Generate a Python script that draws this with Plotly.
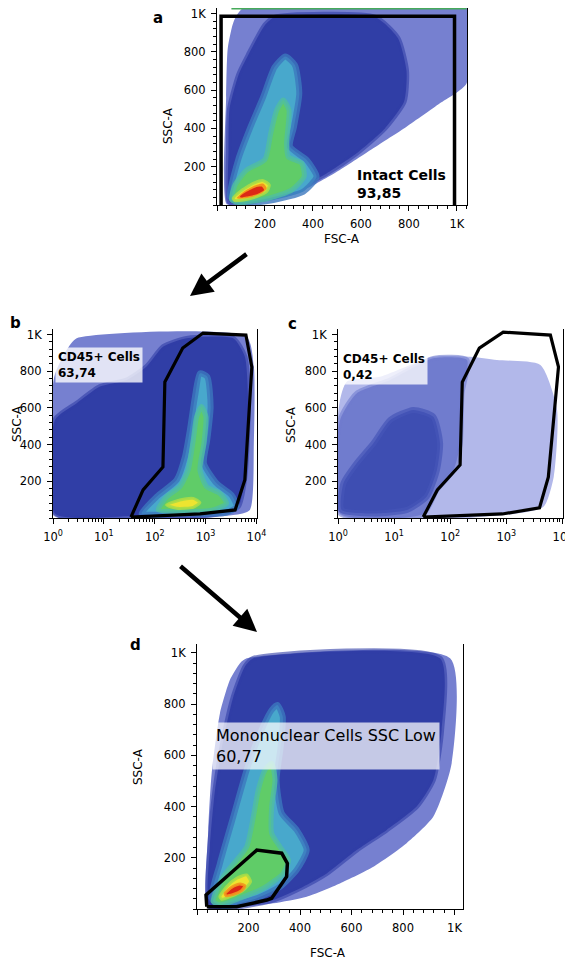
import plotly.graph_objects as go

W, H = 573, 962
OFF = 8  # the page body adds an 8px margin round the figure

# ---- panel a: FSC-A vs SSC-A, all events (linear/linear) ----
A_SPARSE = [(40, 5), (38, 560), (45, 820), (70, 960), (110, 1030), (1040, 1030), (1040, 635),
            (929, 531), (790, 409), (651, 296), (512, 183), (374, 87), (235, 35), (96, 5)]
A_DENSE = [(51, 17), (48, 287), (52, 500), (90, 680), (130, 783), (200, 940), (240, 980),
           (660, 980), (754, 872), (790, 700), (780, 540), (700, 400), (582, 270), (457, 165),
           (318, 78), (179, 26), (82, 5)]
A_TEAL = [(55, 44), (88, 235), (140, 409), (193, 566), (240, 720), (285, 775), (325, 730),
          (343, 583), (321, 409), (304, 305), (374, 235), (415, 148), (360, 70), (235, 26), (96, 9)]
A_GREEN = [(61, 26), (75, 104), (124, 183), (200, 238), (224, 374), (249, 496), (276, 548),
           (300, 496), (290, 322), (297, 252), (353, 218), (363, 148), (311, 78), (214, 35), (96, 12)]
A_YELLOW = [(68, 35), (96, 70), (151, 113), (193, 127), (218, 104), (207, 70), (165, 44),
            (110, 26), (75, 23)]
A_ORANGE = [(82, 36), (110, 68), (155, 100), (192, 112), (207, 88), (185, 60), (140, 40), (95, 32)]
A_RED = [(96, 44), (124, 70), (160, 92), (186, 96), (196, 78), (168, 57), (124, 44), (99, 39)]
A_TOP = [(60, 1026), (1040, 1026)]
A_GATE = [(17, -20), (17, 985), (990, 985), (990, -20)]

# ---- panel b: CD45 (log) vs SSC-A ----
B_SPARSE = [(1.06, 16), (1.06, 770), (1.85, 915), (2.92, 979), (6380, 988), (8870, 825),
            (8870, 407), (7420, 44), (3480, 16)]
B_DENSE = [(1.09, 25), (1.09, 534), (2.92, 625), (8.38, 716), (28, 752), (69, 825), (147, 934),
           (423, 979), (3490, 979), (5920, 879), (6880, 589), (5920, 225), (4380, 62),
           (1640, 22), (37.9, 11)]
B_TEAL = [(55, 25), (109, 116), (269, 207), (392, 334), (491, 480), (617, 661), (773, 788),
          (1076, 770), (1254, 606), (1076, 425), (926, 298), (1644, 189), (3240, 125),
          (4060, 62), (2580, 29), (367, 24), (93, 18)]
B_GREEN = [(117, 44), (171, 116), (313, 171), (455, 262), (571, 425), (665, 552), (834, 607),
           (1014, 552), (926, 407), (773, 262), (1047, 171), (1910, 134), (2580, 80),
           (1410, 44), (363, 35)]
B_YELLOW = [(171, 71), (313, 98), (571, 107), (773, 84), (571, 58), (269, 53)]
B_GATE = [(34, 5), (59, 153), (145, 278), (158, 741), (355, 926), (890, 1008), (6200, 997),
          (8100, 823), (5900, 207), (3800, 44), (775, 22), (34, 5)]

# ---- panel c: CD45 (log) vs SSC-A, second sample ----
C_SPARSE = [(1.06, 22), (1.06, 625), (1.43, 743), (5.6, 770), (50, 879), (228, 879),
            (681, 861), (4050, 834), (8030, 589), (7000, 225), (4640, 62), (1350, 22)]
C_MID = [(1.09, 25), (1.09, 534), (2.15, 679), (8.5, 752), (50, 870), (199, 861), (162, 679),
         (151, 407), (115, 262), (58, 153), (33, 22)]
C_BLOB = [(1.16, 44), (1.25, 189), (2.15, 298), (4.28, 407), (8.5, 534), (22, 589), (50, 552),
          (66, 407), (58, 262), (38, 116), (17, 44), (4.3, 25)]
C_GATE = [(33, 5), (59, 153), (150, 289), (164, 741), (330, 926), (880, 1013), (6100, 997),
          (8500, 823), (5600, 223), (3900, 55), (850, 22), (33, 5)]

# ---- panel d: FSC-A vs SSC-A of CD45+ ----
D_SPARSE = [(44, 3), (44, 309), (57, 530), (89, 764), (128, 895), (167, 960), (193, 979),
            (983, 979), (989, 569), (918, 361), (814, 257), (685, 165), (555, 100), (426, 48),
            (296, 22), (167, 7)]
D_DENSE = [(50, 9), (50, 243), (70, 465), (102, 660), (141, 829), (186, 947), (219, 979),
           (944, 979), (950, 699), (918, 504), (853, 400), (737, 309), (620, 230), (504, 139),
           (387, 74), (296, 35), (167, 9)]
D_TEAL = [(57, 42), (89, 178), (141, 361), (193, 543), (245, 686), (290, 777), (312, 797),
          (333, 751), (325, 634), (309, 504), (329, 374), (387, 309), (426, 230), (387, 152),
          (322, 87), (232, 42), (102, 12)]
D_GREEN = [(63, 29), (102, 126), (154, 191), (193, 243), (219, 361), (238, 465), (264, 543),
           (290, 569), (303, 504), (290, 400), (290, 296), (322, 243), (355, 191), (335, 139),
           (258, 81), (167, 42), (89, 16)]
D_YELLOW = [(89, 48), (115, 87), (154, 120), (193, 133), (208, 107), (180, 74), (128, 48), (96, 38)]
D_RED = [(109, 61), (135, 85), (167, 98), (186, 90), (173, 72), (141, 57), (113, 52)]
D_GATE = [(38, 9), (35, 55), (232, 230), (329, 218), (351, 178), (348, 126), (290, 42),
          (271, 35), (154, 9), (38, 9)]

LIN_TICKS = [0, 200, 400, 600, 800, 1000]
LIN_TEXT = ["", "200", "400", "600", "800", "1K"]
SSC_TICKS = [200, 400, 600, 800, 1000]
SSC_TEXT = ["200", "400", "600", "800", "1K"]
LOG_TICKS = [1, 10, 100, 1000, 10000]
LOG_TEXT = ["10<sup>0</sup>", "10<sup>1</sup>", "10<sup>2</sup>", "10<sup>3</sup>", "10<sup>4</sup>"]

SPARSE = "rgb(118,128,208)"
SPARSE_C = "rgb(178,184,234)"
MID_C = "rgb(112,124,206)"
DENSE = "rgb(48,62,166)"
TEAL = "rgb(72,168,204)"
GREEN = "rgb(96,204,104)"
YELLOW = "rgb(238,228,48)"
ORANGE = "rgb(242,150,30)"
RED = "rgb(220,40,22)"


def poly(pts, color, ax, edge=None, ew=0):
    xs = [p[0] for p in pts] + [pts[0][0]]
    ys = [p[1] for p in pts] + [pts[0][1]]
    return go.Scatter(x=xs, y=ys, mode="lines", fill="toself", fillcolor=color,
                      line=dict(color=edge or color, width=ew, shape="spline", smoothing=0.6),
                      hoverinfo="skip", showlegend=False, xaxis="x" + ax, yaxis="y" + ax)


def gate(pts, ax, width=3.2):
    return go.Scatter(x=[p[0] for p in pts], y=[p[1] for p in pts], mode="lines",
                      line=dict(color="black", width=width),
                      hoverinfo="skip", showlegend=False, xaxis="x" + ax, yaxis="y" + ax)


fig = go.Figure()

# panel a
fig.add_trace(poly(A_SPARSE, SPARSE, ""))
fig.add_trace(poly(A_DENSE, DENSE, "", "rgba(48,62,166,0.6)", 5))
fig.add_trace(poly(A_TEAL, TEAL, "", "rgba(60,120,190,0.8)", 6))
fig.add_trace(poly(A_GREEN, GREEN, "", "rgba(80,190,160,0.8)", 5))
fig.add_trace(poly(A_YELLOW, YELLOW, "", "rgba(170,220,70,0.9)", 3))
fig.add_trace(poly(A_ORANGE, ORANGE, ""))
fig.add_trace(poly(A_RED, RED, ""))
fig.add_trace(go.Scatter(x=[p[0] for p in A_TOP], y=[p[1] for p in A_TOP], mode="lines",
                         line=dict(color="rgb(70,170,90)", width=2), hoverinfo="skip",
                         showlegend=False, xaxis="x", yaxis="y"))
fig.add_trace(gate(A_GATE, "", 3.5))

# panel b
fig.add_trace(poly(B_SPARSE, SPARSE, "2"))
fig.add_trace(poly(B_DENSE, DENSE, "2", "rgba(48,62,166,0.6)", 5))
fig.add_trace(poly(B_TEAL, TEAL, "2", "rgba(60,120,190,0.8)", 6))
fig.add_trace(poly(B_GREEN, GREEN, "2", "rgba(80,190,160,0.8)", 5))
fig.add_trace(poly(B_YELLOW, YELLOW, "2", "rgba(170,220,70,0.9)", 3))
fig.add_trace(gate(B_GATE, "2"))

# panel c
fig.add_trace(poly(C_SPARSE, SPARSE_C, "3"))
fig.add_trace(poly(C_MID, MID_C, "3", "rgba(112,124,206,0.6)", 5))
fig.add_trace(poly(C_BLOB, "rgb(62,78,178)", "3", "rgba(70,86,184,0.7)", 6))
fig.add_trace(gate(C_GATE, "3"))

# panel d
fig.add_trace(poly(D_SPARSE, SPARSE, "4"))
fig.add_trace(poly(D_DENSE, DENSE, "4", "rgba(48,62,166,0.6)", 5))
fig.add_trace(poly(D_TEAL, TEAL, "4", "rgba(60,120,190,0.8)", 6))
fig.add_trace(poly(D_GREEN, GREEN, "4", "rgba(80,190,160,0.8)", 5))
fig.add_trace(poly(D_YELLOW, YELLOW, "4", "rgba(170,220,70,0.9)", 3))
fig.add_trace(poly(D_RED, RED, "4", "rgba(242,150,30,0.9)", 3))
fig.add_trace(gate(D_GATE, "4", 3.5))


# window pixel -> paper fraction
def px(x):
    return (x - OFF) / W


def py(y):
    return min(1, 1 - (y - OFF) / H)


base = dict(showline=True, linecolor="black", linewidth=1, ticks="outside", ticklen=5,
            tickwidth=1, tickcolor="black", showgrid=False, zeroline=False, automargin=False,
            ticklabelstandoff=3, ticklabeloverflow="allow",
            tickfont=dict(family="DejaVu Sans", size=11.5, color="black"))
lin_minor = dict(ticks="outside", ticklen=3, tick0=0, dtick=40, tickcolor="black", showgrid=False)
log_minor = dict(ticks="outside", ticklen=3, tickcolor="black", showgrid=False, tickmode="array",
                 tickvals=[m * 10 ** e for e in range(4) for m in range(2, 10)])


def lin_x(dom, rng, anchor):
    return dict(base, domain=dom, range=rng, tickmode="array", tickvals=LIN_TICKS,
                ticktext=LIN_TEXT, minor=lin_minor, anchor=anchor)


def log_x(dom, anchor):
    return dict(base, type="log", domain=dom, range=[0, 4.01], tickmode="array",
                tickvals=LOG_TICKS, ticktext=LOG_TEXT, minor=log_minor, anchor=anchor)


def ssc_y(dom, rng, anchor):
    return dict(base, domain=dom, range=rng, tickmode="array", tickvals=SSC_TICKS,
                ticktext=SSC_TEXT, minor=lin_minor, mirror=True, anchor=anchor)


fig.update_layout(
    template="none",
    width=W, height=H, margin=dict(l=0, r=0, t=0, b=0, pad=0, autoexpand=False),
    paper_bgcolor="white", plot_bgcolor="white",
    font=dict(family="DejaVu Sans", color="black"),
    # panel a reaches the very top of the page: its plot area starts at the figure edge
    xaxis=lin_x([px(217), px(467)], [0, 1042], "y"),
    yaxis=ssc_y([py(205), 1], [0, (205 - OFF) / 0.1915], "x"),
    xaxis2=log_x([px(53), px(257)], "y2"),
    yaxis2=ssc_y([py(518), py(329)], [0, 1030], "x2"),
    xaxis3=log_x([px(338), px(563)], "y3"),
    yaxis3=ssc_y([py(518), py(329)], [0, 1030], "x3"),
    xaxis4=lin_x([px(197), px(463)], [0, 1033], "y4"),
    yaxis4=ssc_y([py(909), py(644)], [0, 1035], "x4"),
)

ann = []
txt = dict(family="DejaVu Sans", size=12, color="black")


def label(text, x, y, font, **kw):
    opts = dict(text=text, x=px(x), y=py(y), xref="paper", yref="paper", showarrow=False,
                xanchor="center", yanchor="middle", font=font)
    opts.update(kw)
    ann.append(opts)


letter_font = dict(family="DejaVu Sans", size=15, color="black")
label("<b>a</b>", 158, OFF, letter_font, yanchor="top", borderpad=0)
label("<b>b</b>", OFF, 323, letter_font, xanchor="left")
label("<b>c</b>", 292, 324, letter_font)
label("<b>d</b>", 135, 645, letter_font)
label("SSC-A", 168, 126, txt, textangle=-90)
label("SSC-A", OFF, 424, txt, textangle=-90, xanchor="left")
label("SSC-A", 291, 425, txt, textangle=-90)
label("SSC-A", 138, 767, txt, textangle=-90)
label("FSC-A", 342, 239, txt)
label("FSC-A", 328, 953, txt)

label("<b>Intact Cells</b><br><b>93,85</b>", 355, 165,
      dict(family="DejaVu Sans", size=14, color="black"),
      xanchor="left", yanchor="top", align="left")
for (bx, by, val) in [(55, 347, "63,74"), (340, 349, "0,42")]:
    label("<b>CD45+ Cells</b><br><b>%s</b>" % val, bx, by,
          dict(family="DejaVu Sans", size=12, color="black"),
          xanchor="left", yanchor="top", align="left",
          bgcolor="rgba(255,255,255,0.78)", borderpad=2)
label("Mononuclear Cells SSC Low<br>60,77", 212, 722,
      dict(family="DejaVu Sans", size=16, color="black"),
      xanchor="left", yanchor="top", align="left",
      bgcolor="rgba(255,255,255,0.72)", borderpad=3)

# arrows between panels
for (x0, y0, x1, y1) in [(248, 253, 190, 296), (179, 565, 257, 632)]:
    ann.append(dict(text="", x=px(x1), y=py(y1), xref="paper", yref="paper",
                    ax=x0 - x1, ay=y0 - y1, showarrow=True, arrowhead=2, arrowsize=1,
                    arrowwidth=4.5, arrowcolor="black"))

fig.update_layout(annotations=ann)
fig.write_html("out.html")
